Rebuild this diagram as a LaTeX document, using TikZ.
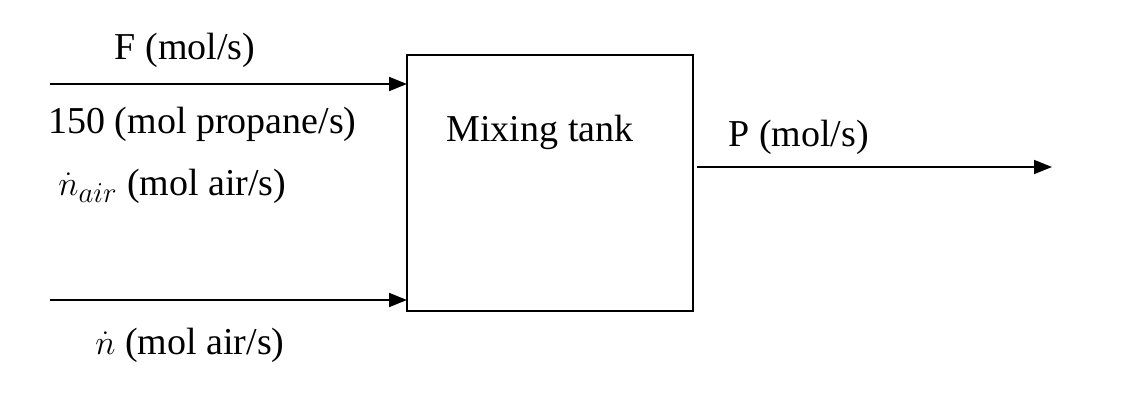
\documentclass[tikz,border=0pt]{standalone}
\usepackage{fontspec}
\setmainfont{Liberation Serif}
\usetikzlibrary{arrows.meta}
\begin{document}
\begin{tikzpicture}[x=0.5pt,y=-0.5pt,
  lbl/.style={font=\fontsize{19}{22}\selectfont,inner sep=0pt},
  flow/.style={line width=0.8pt,-{Triangle[length=9pt,width=7pt]}}]
\useasboundingbox (0,0) rectangle (1146,406);
\node[draw,line width=0.8pt,minimum width=143pt,minimum height=128pt,inner sep=0pt] (tank) at (550,183) {};
\node[lbl] (tl) at (540,132) {Mixing tank};
\coordinate (a1) at (50,84);
\coordinate (b1) at (407,84);
\coordinate (a2) at (50,300);
\coordinate (b2) at (407,300);
\coordinate (c1) at (697,167);
\coordinate (d1) at (1052,167);
\draw[flow] (a1) -- (b1);
\draw[flow] (a2) -- (b2);
\draw[flow] (c1) -- (d1);
\node[lbl] (f) at (185,50) {F (mol/s)};
\node[lbl,anchor=west] (p1) at (48,124) {150 (mol propane/s)};
\node[lbl,anchor=west] (p2) at (58,186) {$\dot{n}_{air}$ (mol air/s)};
\node[lbl,anchor=west] (p3) at (95,345) {$\dot{n}$ (mol air/s)};
\node[lbl,anchor=west] (p) at (728,137) {P (mol/s)};
\end{tikzpicture}
\end{document}
